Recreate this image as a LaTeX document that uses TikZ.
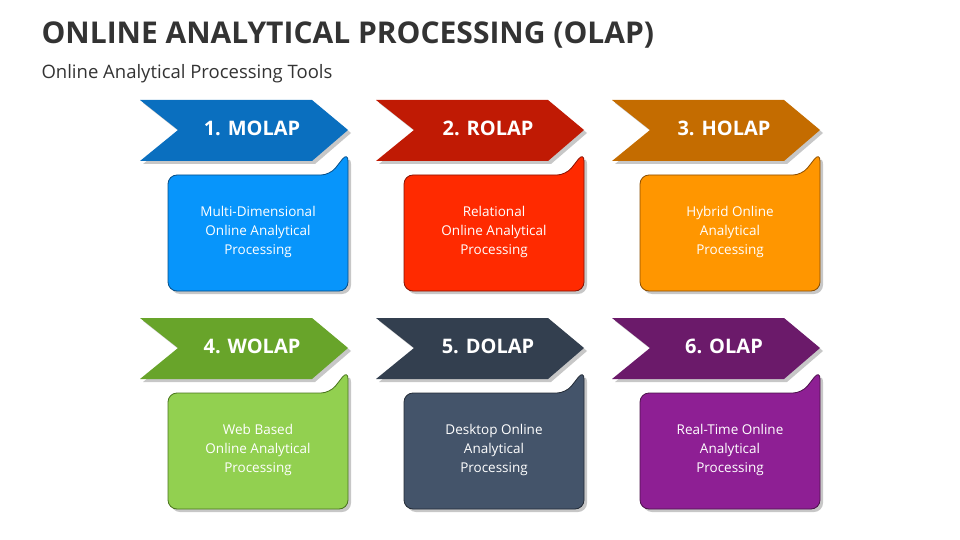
\documentclass[tikz,border=0pt]{standalone}
\usepackage{fontspec}
\setmainfont{Open Sans}
\usetikzlibrary{positioning}

\definecolor{molapA}{HTML}{0A6FBF}
\definecolor{molapB}{HTML}{0795FB}
\definecolor{rolapA}{HTML}{C01A04}
\definecolor{rolapB}{HTML}{FF2A00}
\definecolor{holapA}{HTML}{C46C00}
\definecolor{holapB}{HTML}{FF9600}
\definecolor{wolapA}{HTML}{68A42A}
\definecolor{wolapB}{HTML}{92D050}
\definecolor{dolapA}{HTML}{333F4F}
\definecolor{dolapB}{HTML}{44546A}
\definecolor{olapA}{HTML}{6B1A6A}
\definecolor{olapB}{HTML}{8E1F94}
\definecolor{titlegray}{HTML}{333333}

\tikzset{
  chevtext/.style={text=white, font=\bfseries\fontsize{20}{24}\selectfont},
  cardtext/.style={text=white, align=center, font=\fontsize{13.5}{19}\selectfont},
  shade/.style={fill=black!22, draw=none}
}

% one tool: name, x, y, chevron colour, card colour, heading, text
\newcommand{\olaptool}[7]{
  \fill[shade] (#2+3,#3+3) -- ++(172,0) -- ++(36,30) -- ++(-36,31) -- ++(-172,0) -- ++(38,-31) -- cycle;
  \fill[#4] (#2,#3) -- ++(172,0) -- ++(36,30) -- ++(-36,31) -- ++(-172,0) -- ++(38,-31) -- cycle;
  \fill[shade, rounded corners=9pt] (#2+31,#3+78) -- ++(162,0) -- ++(18,-23) -- ++(0,139) -- ++(-180,0) -- cycle;
  \fill[#5, draw=#4!70!black, line width=0.8pt, rounded corners=9pt] (#2+28,#3+75) -- ++(162,0) -- ++(18,-23) -- ++(0,139) -- ++(-180,0) -- cycle;
  \node[chevtext] (#1head) at (#2+112,#3+28) {#6};
  \node[cardtext] (#1text) at (#2+118,#3+132) {#7};
}

\begin{document}
\begin{tikzpicture}[x=1pt, y=-1pt]
\useasboundingbox (0,0) rectangle (960,540);

\node[anchor=west, text=titlegray, font=\bfseries\fontsize{30}{34}\selectfont] (title) at (38,35) {ONLINE ANALYTICAL PROCESSING (OLAP)};
\node[anchor=west, text=titlegray, font=\fontsize{18.5}{22}\selectfont] (subtitle) at (38,74) {Online Analytical Processing Tools};

\olaptool{molap}{140}{100}{molapA}{molapB}{1. MOLAP}{Multi-Dimensional\\Online Analytical\\Processing}
\olaptool{rolap}{376}{100}{rolapA}{rolapB}{2. ROLAP}{Relational\\Online Analytical\\Processing}
\olaptool{holap}{612}{100}{holapA}{holapB}{3. HOLAP}{Hybrid Online\\Analytical\\Processing}
\olaptool{wolap}{140}{318}{wolapA}{wolapB}{4. WOLAP}{Web Based\\Online Analytical\\Processing}
\olaptool{dolap}{376}{318}{dolapA}{dolapB}{5. DOLAP}{Desktop Online\\Analytical\\Processing}
\olaptool{olap}{612}{318}{olapA}{olapB}{6. OLAP}{Real-Time Online\\Analytical\\Processing}
\end{tikzpicture}
\end{document}
